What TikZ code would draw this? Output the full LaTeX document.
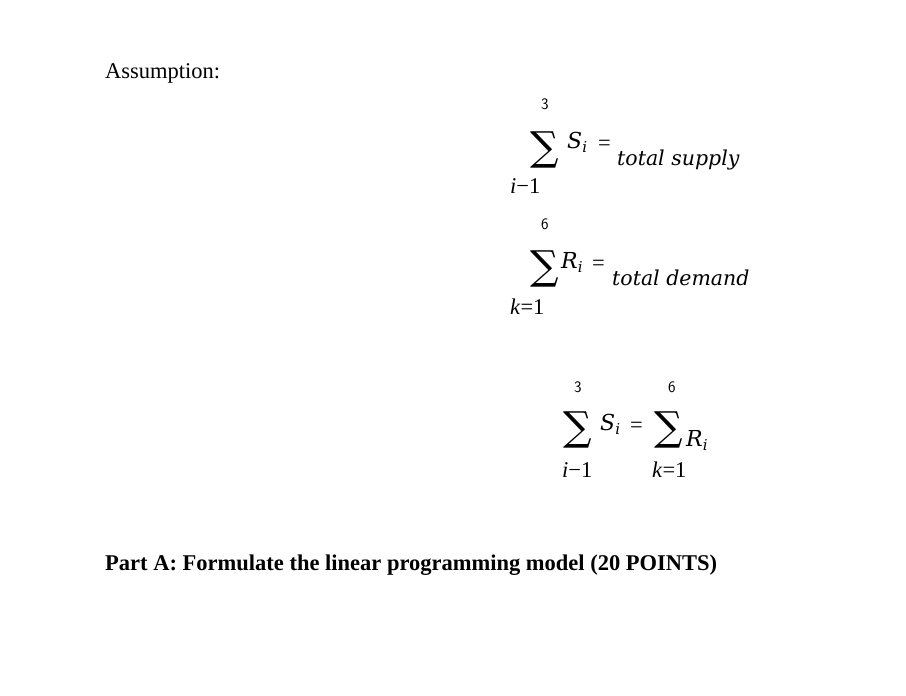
\documentclass[tikz,border=0pt]{standalone}
\usepackage{fontspec}
\setmainfont{Liberation Serif}
\newfontfamily\mfont{DejaVu Serif}
\begin{document}
\begin{tikzpicture}[x=1pt,y=-1pt,
  t/.style={inner sep=0pt,anchor=base west,font=\fontsize{22.5}{25}\selectfont},
  sm/.style={inner sep=0pt,anchor=base,font=\sffamily\fontsize{16}{18}\selectfont},
  sig/.style={inner sep=0pt,anchor=base,font=\mfont\fontsize{40}{42}\selectfont},
  mi/.style={inner sep=0pt,anchor=base west,font=\mfont\itshape\fontsize{22}{24}\selectfont},
  tt/.style={inner sep=0pt,anchor=base west,font=\mfont\itshape\fontsize{20.5}{24}\selectfont}]
\useasboundingbox (0,0) rectangle (906,696);
\node[t] (as) at (105,78) {Assumption:};
% first
\node[sm] (n3a) at (545,109) {3};
\node[sig] (s1) at (545,160) {∑};
\node[mi] (si1) at (567,148) {S\raisebox{-4pt}{\fontsize{15}{16}\selectfont i}};
\node[t] (eq1) at (598,150) {=};
\node[tt] (ts) at (617,165) {total supply};
\node[t] (i1) at (510,193) {\textit{i}−1};
% second
\node[sm] (n6a) at (545,229) {6};
\node[sig] (s2) at (545,279) {∑};
\node[mi] (ri2) at (561,268) {R\raisebox{-4pt}{\fontsize{15}{16}\selectfont i}};
\node[t] (eq2) at (592,270) {=};
\node[tt] (td) at (612,285) {total demand};
\node[t] (k2) at (510,314) {\textit{k}=1};
% third
\node[sm] (n3b) at (578,392) {3};
\node[sig] (s3) at (578,440) {∑};
\node[mi] (si3) at (600,430) {S\raisebox{-4pt}{\fontsize{15}{16}\selectfont i}};
\node[t] (eq3) at (630,432) {=};
\node[sig] (s4) at (669,440) {∑};
\node[sm] (n6b) at (672,392) {6};
\node[mi] (ri4) at (686,446) {R\raisebox{-4pt}{\fontsize{15}{16}\selectfont i}};
\node[t] (i3) at (562,477) {\textit{i}−1};
\node[t] (k4) at (652,477) {\textit{k}=1};
\node[t,font=\bfseries\fontsize{22.5}{25}\selectfont] (pa) at (105,570) {Part A: Formulate the linear programming model (20 POINTS)};
\end{tikzpicture}
\end{document}
